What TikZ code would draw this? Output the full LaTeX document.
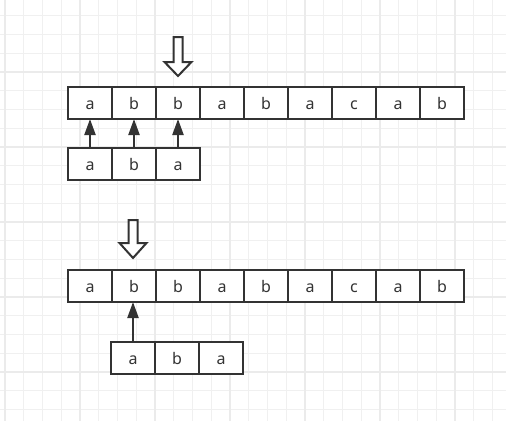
\documentclass[tikz,border=0pt]{standalone}
\usepackage{fontspec}
\setmainfont{Noto Sans}
\usetikzlibrary{arrows.meta}
\definecolor{ink}{HTML}{333333}
\definecolor{gminor}{HTML}{F0F0F0}
\definecolor{gmajor}{HTML}{EBEBEB}
\tikzset{
  cell/.style={draw=ink, line width=2.4pt, fill=white, minimum width=44pt, minimum height=32pt,
    inner sep=0pt, outer sep=0pt, font=\fontsize{16}{16}\selectfont, text=ink,
    text height=12.5pt, text depth=0pt},
  uparrow/.style={draw=ink, line width=2.2pt, -{Triangle[length=16pt,width=11pt]}},
  hollow/.style={draw=ink, line width=2pt, fill=white, line join=miter},
  minorline/.style={draw=gminor, line width=1.1pt},
  majorline/.style={draw=gmajor, line width=1.3pt}
}
\newcommand{\hollowarrow}[4]{%
  % #1 center x, #2 top y, #3 head base y, #4 tip y
  \path[hollow] ({#1-4.5},#2) -- ({#1+4.5},#2) -- ({#1+4.5},#3) -- ({#1+13.5},#3)
    -- (#1,#4) -- ({#1-13.5},#3) -- ({#1-4.5},#3) -- cycle;}
\begin{document}
\begin{tikzpicture}[x=1pt,y=-1pt]
\fill[white] (0,0) rectangle (506,421);
\useasboundingbox (0,0) rectangle (506,421);
% grid
\foreach \i in {0,...,27} {
  \draw[minorline] ({5+18.75*\i},0) -- ({5+18.75*\i},421);
}
\foreach \i in {0,...,23} {
  \draw[minorline] (0,{-3+18.75*\i}) -- (506,{-3+18.75*\i});
}
\foreach \i in {0,...,6} {
  \draw[majorline] ({5+75*\i},0) -- ({5+75*\i},421);
  \draw[majorline] (0,{-3+75*\i}) -- (506,{-3+75*\i});
}
% first stage
\foreach \l [count=\i from 0] in {a,b,b,a,b,a,c,a,b} {
  \node[cell] (t\i) at ({90+44*\i},103) {\l};
}
\foreach \l [count=\i from 0] in {a,b,a} {
  \node[cell] (p\i) at ({90+44*\i},164) {\l};
}
\draw[uparrow] (p0.north) -- (t0.south);
\draw[uparrow] (p1.north) -- (t1.south);
\draw[uparrow] (p2.north) -- (t2.south);
\hollowarrow{178}{37}{62}{76}
% second stage
\foreach \l [count=\i from 0] in {a,b,b,a,b,a,c,a,b} {
  \node[cell] (s\i) at ({90+44*\i},286) {\l};
}
\foreach \l [count=\i from 0] in {a,b,a} {
  \node[cell] (q\i) at ({133+44*\i},358) {\l};
}
\draw[uparrow] (q0.north) -- (q0.north |- s1.south);
\hollowarrow{133}{220}{243}{258}
\end{tikzpicture}
\end{document}
